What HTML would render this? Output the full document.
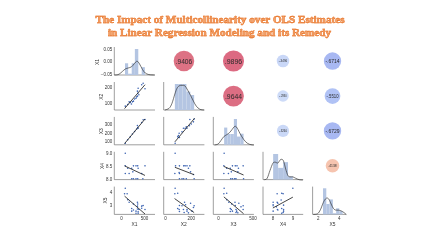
<!DOCTYPE html>
<html><head><meta charset="utf-8"><title>The Impact of Multicollinearity over OLS Estimates</title>
<style>
html,body{margin:0;padding:0;background:#fff;}
body{width:448px;height:252px;overflow:hidden;position:relative;font-family:"Liberation Sans",sans-serif;}
svg{position:absolute;left:0;top:0;}
svg text{font-family:"Liberation Sans",sans-serif;}
.title{font-family:"Liberation Serif",serif;font-weight:bold;font-size:11px;fill:#f2a06a;stroke:#e8792f;stroke-width:0.4;filter:drop-shadow(0.3px 0.3px 0.35px rgba(244,170,120,.9));}
</style></head>
<body>
<svg width="448" height="252" viewBox="0 0 448 252">
<rect width="448" height="252" fill="#fff"/>
<text class="title" x="220" y="23.0" text-anchor="middle" textLength="249" lengthAdjust="spacingAndGlyphs">The Impact of Multicollinearity over OLS Estimates</text>
<text class="title" x="219.5" y="36.3" text-anchor="middle" textLength="223" lengthAdjust="spacingAndGlyphs">in Linear Regression Modeling and its Remedy</text>
<path d="M114.3 47.0V75.0H155.0" fill="none" stroke="#6a6a6a" stroke-width="0.65"/>
<path d="M114.3 82.0V110.0H155.0" fill="none" stroke="#6a6a6a" stroke-width="0.65"/>
<path d="M163.7 82.0V110.0H204.4" fill="none" stroke="#6a6a6a" stroke-width="0.65"/>
<path d="M114.3 116.9V144.8H155.0" fill="none" stroke="#6a6a6a" stroke-width="0.65"/>
<path d="M163.7 116.9V144.8H204.4" fill="none" stroke="#6a6a6a" stroke-width="0.65"/>
<path d="M213.3 116.9V144.8H253.9" fill="none" stroke="#6a6a6a" stroke-width="0.65"/>
<path d="M114.3 151.8V179.6H155.0" fill="none" stroke="#6a6a6a" stroke-width="0.65"/>
<path d="M163.7 151.8V179.6H204.4" fill="none" stroke="#6a6a6a" stroke-width="0.65"/>
<path d="M213.3 151.8V179.6H253.9" fill="none" stroke="#6a6a6a" stroke-width="0.65"/>
<path d="M263.0 151.8V179.6H303.2" fill="none" stroke="#6a6a6a" stroke-width="0.65"/>
<path d="M114.3 186.6V214.4H155.0" fill="none" stroke="#6a6a6a" stroke-width="0.65"/>
<path d="M163.7 186.6V214.4H204.4" fill="none" stroke="#6a6a6a" stroke-width="0.65"/>
<path d="M213.3 186.6V214.4H253.9" fill="none" stroke="#6a6a6a" stroke-width="0.65"/>
<path d="M263.0 186.6V214.4H303.2" fill="none" stroke="#6a6a6a" stroke-width="0.65"/>
<path d="M312.6 186.6V214.4H346.5" fill="none" stroke="#6a6a6a" stroke-width="0.65"/>
<rect x="125.00" y="63.29" width="3.14" height="11.71" fill="#b4c5e2"/>
<rect x="128.14" y="73.71" width="3.57" height="1.29" fill="#b4c5e2"/>
<rect x="131.71" y="63.29" width="3.14" height="11.71" fill="#b4c5e2"/>
<rect x="134.86" y="49.00" width="3.43" height="26.00" fill="#b4c5e2"/>
<rect x="141.71" y="67.14" width="3.14" height="7.86" fill="#b4c5e2"/>
<path d="M114.29 75.00C114.69 74.98 115.90 75.00 116.71 74.86C117.52 74.71 118.19 74.71 119.14 74.14C120.10 73.57 121.40 72.29 122.43 71.43C123.45 70.57 124.33 69.57 125.29 69.00C126.24 68.43 127.12 68.36 128.14 68.00C129.17 67.64 130.40 67.57 131.43 66.86C132.45 66.14 133.36 64.67 134.29 63.71C135.21 62.76 136.12 61.10 137.00 61.14C137.88 61.19 138.67 62.62 139.57 64.00C140.48 65.38 141.48 67.93 142.43 69.43C143.38 70.93 144.21 72.14 145.29 73.00C146.36 73.86 147.31 74.24 148.86 74.57C150.40 74.90 153.62 74.93 154.57 75.00" fill="none" stroke="#2a2a2a" stroke-width="0.65"/>
<rect x="174.86" y="84.00" width="3.86" height="26.00" fill="#b4c5e2"/>
<rect x="178.71" y="84.00" width="3.86" height="26.00" fill="#b4c5e2"/>
<rect x="182.57" y="84.00" width="3.86" height="26.00" fill="#b4c5e2"/>
<rect x="186.43" y="91.57" width="3.86" height="18.43" fill="#b4c5e2"/>
<rect x="190.29" y="95.00" width="3.86" height="15.00" fill="#b4c5e2"/>
<path d="M164.86 110.00C165.57 109.71 167.95 109.40 169.14 108.29C170.33 107.17 171.05 105.67 172.00 103.29C172.95 100.90 174.02 96.50 174.86 94.00C175.69 91.50 176.29 89.64 177.00 88.29C177.71 86.93 178.31 86.36 179.14 85.86C179.98 85.36 181.05 85.29 182.00 85.29C182.95 85.29 184.02 85.24 184.86 85.86C185.69 86.48 186.05 87.40 187.00 89.00C187.95 90.60 189.50 93.40 190.57 95.43C191.64 97.45 192.48 99.36 193.43 101.14C194.38 102.93 195.21 104.79 196.29 106.14C197.36 107.50 198.55 108.64 199.86 109.29C201.17 109.93 203.43 109.88 204.14 110.00" fill="none" stroke="#2a2a2a" stroke-width="0.65"/>
<rect x="224.14" y="127.57" width="3.14" height="17.23" fill="#b4c5e2"/>
<rect x="227.29" y="134.00" width="3.29" height="10.80" fill="#b4c5e2"/>
<rect x="230.57" y="134.00" width="3.29" height="10.80" fill="#b4c5e2"/>
<rect x="233.86" y="119.00" width="3.14" height="25.80" fill="#b4c5e2"/>
<rect x="237.00" y="136.57" width="3.29" height="8.23" fill="#b4c5e2"/>
<rect x="240.29" y="133.71" width="3.29" height="11.09" fill="#b4c5e2"/>
<path d="M214.57 145.00C215.17 144.83 217.07 144.76 218.14 144.00C219.21 143.24 220.05 141.67 221.00 140.43C221.95 139.19 222.90 137.52 223.86 136.57C224.81 135.62 225.76 135.38 226.71 134.71C227.67 134.05 228.67 133.45 229.57 132.57C230.48 131.69 231.40 130.36 232.14 129.43C232.88 128.50 233.48 127.52 234.00 127.00C234.52 126.48 234.86 126.26 235.29 126.29C235.71 126.31 236.10 126.57 236.57 127.14C237.05 127.71 237.52 128.57 238.14 129.71C238.76 130.86 239.33 132.33 240.29 134.00C241.24 135.67 242.67 138.17 243.86 139.71C245.05 141.26 246.24 142.45 247.43 143.29C248.62 144.12 249.93 144.43 251.00 144.71C252.07 145.00 253.38 144.95 253.86 145.00" fill="none" stroke="#2a2a2a" stroke-width="0.65"/>
<rect x="273.14" y="154.00" width="5.00" height="25.60" fill="#b4c5e2"/>
<rect x="278.14" y="167.86" width="5.00" height="11.74" fill="#b4c5e2"/>
<rect x="283.14" y="162.14" width="4.86" height="17.46" fill="#b4c5e2"/>
<rect x="288.00" y="176.43" width="4.86" height="3.17" fill="#b4c5e2"/>
<path d="M264.29 179.71C264.76 179.48 266.19 179.83 267.14 178.29C268.10 176.74 269.05 172.93 270.00 170.43C270.95 167.93 272.02 164.67 272.86 163.29C273.69 161.90 274.17 162.19 275.00 162.14C275.83 162.10 277.02 163.33 277.86 163.00C278.69 162.67 279.36 160.76 280.00 160.14C280.64 159.52 281.12 159.12 281.71 159.29C282.31 159.45 282.90 159.52 283.57 161.14C284.24 162.76 285.00 166.62 285.71 169.00C286.43 171.38 287.14 174.12 287.86 175.43C288.57 176.74 289.17 176.62 290.00 176.86C290.83 177.10 291.90 176.62 292.86 176.86C293.81 177.10 294.64 177.81 295.71 178.29C296.79 178.76 298.10 179.43 299.29 179.71C300.48 180.00 302.26 179.95 302.86 180.00" fill="none" stroke="#2a2a2a" stroke-width="0.65"/>
<rect x="323.00" y="188.29" width="3.29" height="26.11" fill="#b4c5e2"/>
<rect x="326.29" y="204.00" width="3.29" height="10.40" fill="#b4c5e2"/>
<rect x="329.57" y="199.43" width="3.29" height="14.97" fill="#b4c5e2"/>
<rect x="332.86" y="213.29" width="3.29" height="1.11" fill="#b4c5e2"/>
<rect x="336.14" y="208.29" width="3.14" height="6.11" fill="#b4c5e2"/>
<rect x="339.29" y="211.14" width="3.29" height="3.26" fill="#b4c5e2"/>
<path d="M313.29 214.43C314.00 214.31 316.38 214.50 317.57 213.71C318.76 212.93 319.48 211.57 320.43 209.71C321.38 207.86 322.45 204.36 323.29 202.57C324.12 200.79 324.79 199.76 325.43 199.00C326.07 198.24 326.55 197.93 327.14 198.00C327.74 198.07 328.33 198.43 329.00 199.43C329.67 200.43 330.43 202.52 331.14 204.00C331.86 205.48 332.57 207.29 333.29 208.29C334.00 209.29 334.60 209.69 335.43 210.00C336.26 210.31 337.33 210.00 338.29 210.14C339.24 210.29 340.19 210.45 341.14 210.86C342.10 211.26 343.17 211.98 344.00 212.57C344.83 213.17 345.79 214.12 346.14 214.43" fill="none" stroke="#2a2a2a" stroke-width="0.65"/>
<path d="M125.29 106.14h0M127.71 104.43h0M129.14 101.86h0M131.43 104.00h0M132.43 101.86h0M133.43 101.14h0M136.00 98.29h0M137.43 96.14h0M137.86 93.29h0M137.43 91.14h0M138.14 88.29h0M141.71 84.71h0M143.14 83.29h0M145.00 88.71h0M138.86 94.71h0M136.71 96.86h0M134.57 99.00h0M130.29 102.57h0" stroke="#3f66b3" stroke-width="1.6" stroke-linecap="round" fill="none"/>
<path d="M124.57 108.57L145.00 84.71" stroke="#222" stroke-width="0.85" fill="none"/>
<path d="M125.29 143.29h0M127.71 139.71h0M130.29 136.86h0M132.43 134.00h0M134.57 131.43h0M136.71 129.00h0M137.71 127.57h0M137.43 125.43h0M138.14 128.29h0M141.71 122.57h0M143.14 119.71h0M145.00 119.43h0" stroke="#3f66b3" stroke-width="1.6" stroke-linecap="round" fill="none"/>
<path d="M124.57 143.57L145.00 119.00" stroke="#222" stroke-width="0.85" fill="none"/>
<path d="M125.29 153.29h0M125.29 165.86h0M127.71 168.29h0M131.71 168.29h0M133.43 165.86h0M136.00 165.86h0M137.71 165.86h0M138.14 168.29h0M145.00 165.86h0M125.29 173.57h0M129.14 173.57h0M132.86 171.86h0M141.71 173.57h0M131.71 178.71h0M133.43 178.71h0M136.00 178.71h0M137.71 178.71h0M142.86 178.71h0" stroke="#3f66b3" stroke-width="1.6" stroke-linecap="round" fill="none"/>
<path d="M124.57 165.86L145.00 175.43" stroke="#222" stroke-width="0.85" fill="none"/>
<path d="M125.29 188.29h0M124.57 193.71h0M127.14 193.71h0M127.71 199.71h0M129.14 202.29h0M133.43 204.00h0M137.43 202.29h0M137.71 204.00h0M137.43 206.14h0M141.71 206.14h0M143.14 205.43h0M131.71 208.57h0M133.43 210.00h0M137.43 209.00h0M138.86 209.43h0M141.71 208.29h0M145.00 209.43h0M131.71 211.14h0M136.00 211.14h0M138.14 211.86h0M136.00 213.29h0M138.14 213.29h0" stroke="#3f66b3" stroke-width="1.6" stroke-linecap="round" fill="none"/>
<path d="M124.57 196.14L145.00 214.00" stroke="#222" stroke-width="0.85" fill="none"/>
<path d="M175.14 143.29h0M177.71 136.86h0M179.14 133.29h0M178.43 135.43h0M182.00 131.86h0M183.43 128.29h0M185.14 128.29h0M187.00 128.29h0M186.29 126.86h0M189.43 125.71h0M191.29 124.00h0M193.43 121.86h0M189.86 119.43h0M194.14 119.00h0M179.43 137.57h0" stroke="#3f66b3" stroke-width="1.6" stroke-linecap="round" fill="none"/>
<path d="M174.86 141.86L194.57 118.29" stroke="#222" stroke-width="0.85" fill="none"/>
<path d="M175.14 153.29h0M175.57 165.86h0M179.43 165.86h0M183.71 165.86h0M185.14 165.86h0M187.00 165.86h0M189.86 165.86h0M188.43 168.29h0M174.86 173.57h0M179.14 172.57h0M179.43 173.57h0M190.57 171.86h0M193.43 174.43h0M179.43 178.71h0M182.00 178.71h0M183.71 178.71h0M186.29 178.71h0M194.14 178.71h0" stroke="#3f66b3" stroke-width="1.6" stroke-linecap="round" fill="none"/>
<path d="M174.86 167.29L194.14 174.71" stroke="#222" stroke-width="0.85" fill="none"/>
<path d="M175.14 188.29h0M174.86 193.71h0M177.71 193.29h0M184.57 202.29h0M190.57 203.29h0M185.57 204.71h0M182.00 205.71h0M179.43 205.43h0M194.14 205.71h0M193.43 207.57h0M177.71 208.57h0M179.14 209.43h0M183.43 209.43h0M187.00 209.43h0M179.43 211.43h0M187.00 211.14h0M192.00 211.14h0M184.14 212.57h0M188.43 212.86h0" stroke="#3f66b3" stroke-width="1.6" stroke-linecap="round" fill="none"/>
<path d="M174.57 198.57L194.14 212.57" stroke="#222" stroke-width="0.85" fill="none"/>
<path d="M224.14 153.29h0M223.86 165.86h0M232.43 165.86h0M235.29 165.86h0M237.00 165.86h0M243.14 165.86h0M226.71 168.29h0M230.29 168.29h0M238.43 168.29h0M223.86 173.57h0M228.43 173.57h0M231.29 171.86h0M237.86 171.86h0M230.71 178.71h0M232.43 178.71h0M234.57 178.71h0M236.00 178.71h0M243.57 178.71h0" stroke="#3f66b3" stroke-width="1.6" stroke-linecap="round" fill="none"/>
<path d="M223.86 166.43L243.57 175.00" stroke="#222" stroke-width="0.85" fill="none"/>
<path d="M224.14 188.29h0M223.86 193.71h0M226.71 193.29h0M226.71 199.71h0M228.86 202.29h0M235.00 202.29h0M238.86 203.29h0M231.71 204.00h0M235.29 205.43h0M243.14 205.71h0M241.00 206.86h0M230.29 208.57h0M231.29 209.43h0M236.00 209.43h0M243.14 209.43h0M230.29 211.43h0M232.43 211.14h0M236.71 211.14h0M236.00 212.57h0M237.86 212.86h0" stroke="#3f66b3" stroke-width="1.6" stroke-linecap="round" fill="none"/>
<path d="M223.86 196.86L243.57 213.71" stroke="#222" stroke-width="0.85" fill="none"/>
<path d="M292.86 188.29h0M277.14 193.71h0M281.71 193.29h0M283.14 193.71h0M281.14 200.00h0M273.14 202.29h0M277.14 202.29h0M277.86 203.29h0M273.14 204.71h0M273.14 205.71h0M283.57 205.14h0M276.43 206.86h0M277.43 209.43h0M277.86 210.00h0M281.71 208.57h0M283.57 209.43h0M273.14 211.14h0M283.57 211.14h0M283.14 212.57h0M281.71 213.29h0" stroke="#3f66b3" stroke-width="1.6" stroke-linecap="round" fill="none"/>
<path d="M272.86 208.00L292.86 197.14" stroke="#222" stroke-width="0.85" fill="none"/>
<circle cx="183.95" cy="61.05" r="10.29" fill="#dd7284"/>
<text x="183.95" y="63.66" font-size="7.36" text-anchor="middle" fill="#2a2a2a" textLength="16.67" lengthAdjust="spacingAndGlyphs">.9406</text>
<circle cx="233.50" cy="61.05" r="10.55" fill="#dc6a82"/>
<text x="233.50" y="63.78" font-size="7.7" text-anchor="middle" fill="#2a2a2a" textLength="17.43" lengthAdjust="spacingAndGlyphs">.9896</text>
<circle cx="233.50" cy="96.05" r="10.41" fill="#dc6e83"/>
<text x="233.50" y="98.72" font-size="7.53" text-anchor="middle" fill="#2a2a2a" textLength="17.04" lengthAdjust="spacingAndGlyphs">.9644</text>
<circle cx="283.00" cy="61.05" r="6.27" fill="#c9d7f7"/>
<text x="283.00" y="62.21" font-size="3.28" text-anchor="middle" fill="#2a2a2a" textLength="8.41" lengthAdjust="spacingAndGlyphs">-.3496</text>
<circle cx="283.00" cy="96.05" r="5.74" fill="#cddbf8"/>
<text x="283.00" y="97.08" font-size="2.89" text-anchor="middle" fill="#2a2a2a" textLength="7.41" lengthAdjust="spacingAndGlyphs">-.2930</text>
<circle cx="283.00" cy="130.90" r="6.06" fill="#cad8f7"/>
<text x="283.00" y="132.01" font-size="3.12" text-anchor="middle" fill="#2a2a2a" textLength="7.99" lengthAdjust="spacingAndGlyphs">-.3260</text>
<circle cx="332.50" cy="61.05" r="8.69" fill="#a8b8f2"/>
<text x="332.50" y="63.00" font-size="5.5" text-anchor="middle" fill="#2a2a2a" textLength="14.12" lengthAdjust="spacingAndGlyphs">-.6714</text>
<circle cx="332.50" cy="96.05" r="7.87" fill="#b0c2f5"/>
<text x="332.50" y="97.71" font-size="4.67" text-anchor="middle" fill="#2a2a2a" textLength="11.98" lengthAdjust="spacingAndGlyphs">-.5510</text>
<circle cx="332.50" cy="130.90" r="8.70" fill="#a8b8f2"/>
<text x="332.50" y="132.86" font-size="5.51" text-anchor="middle" fill="#2a2a2a" textLength="14.14" lengthAdjust="spacingAndGlyphs">-.6729</text>
<circle cx="332.50" cy="165.75" r="6.82" fill="#f6c4af"/>
<text x="332.50" y="167.07" font-size="3.72" text-anchor="middle" fill="#2a2a2a" textLength="8.43" lengthAdjust="spacingAndGlyphs">.4138</text>
<text x="112.20" y="50.62" font-size="4.5" text-anchor="end" fill="#333">0.05</text>
<text x="112.20" y="62.82" font-size="4.5" text-anchor="end" fill="#333">0.00</text>
<text x="112.20" y="76.02" font-size="4.5" text-anchor="end" fill="#333">−0.05</text>
<text x="112.20" y="88.72" font-size="4.5" text-anchor="end" fill="#333">200</text>
<text x="112.20" y="104.62" font-size="4.5" text-anchor="end" fill="#333">100</text>
<text x="112.20" y="126.32" font-size="4.5" text-anchor="end" fill="#333">300</text>
<text x="112.20" y="134.62" font-size="4.5" text-anchor="end" fill="#333">200</text>
<text x="112.20" y="143.02" font-size="4.5" text-anchor="end" fill="#333">100</text>
<text x="112.20" y="154.92" font-size="4.5" text-anchor="end" fill="#333">9.0</text>
<text x="112.20" y="168.02" font-size="4.5" text-anchor="end" fill="#333">8.5</text>
<text x="112.20" y="180.62" font-size="4.5" text-anchor="end" fill="#333">8.0</text>
<text x="112.20" y="193.92" font-size="4.5" text-anchor="end" fill="#333">4</text>
<text x="112.20" y="207.32" font-size="4.5" text-anchor="end" fill="#333">3</text>
<text x="121.40" y="220.22" font-size="4.5" text-anchor="middle" fill="#333">0</text>
<text x="144.60" y="220.22" font-size="4.5" text-anchor="middle" fill="#333">500</text>
<text x="165.60" y="220.22" font-size="4.5" text-anchor="middle" fill="#333">0</text>
<text x="191.30" y="220.22" font-size="4.5" text-anchor="middle" fill="#333">200</text>
<text x="218.40" y="220.22" font-size="4.5" text-anchor="middle" fill="#333">0</text>
<text x="253.10" y="220.22" font-size="4.5" text-anchor="middle" fill="#333">500</text>
<text x="272.90" y="220.22" font-size="4.5" text-anchor="middle" fill="#333">8</text>
<text x="292.90" y="220.22" font-size="4.5" text-anchor="middle" fill="#333">9</text>
<text x="318.30" y="220.22" font-size="4.5" text-anchor="middle" fill="#333">2</text>
<text x="339.30" y="220.22" font-size="4.5" text-anchor="middle" fill="#333">4</text>
<text x="134.50" y="226.16" font-size="4.9" text-anchor="middle" fill="#333">X1</text>
<text x="183.80" y="226.16" font-size="4.9" text-anchor="middle" fill="#333">X2</text>
<text x="233.60" y="226.16" font-size="4.9" text-anchor="middle" fill="#333">X3</text>
<text x="283.00" y="226.16" font-size="4.9" text-anchor="middle" fill="#333">X4</text>
<text x="332.50" y="226.16" font-size="4.9" text-anchor="middle" fill="#333">X5</text>
<text x="98.66" y="62.00" font-size="4.9" text-anchor="middle" fill="#333" transform="rotate(-90 98.66 62.00)">X1</text>
<text x="103.16" y="96.80" font-size="4.9" text-anchor="middle" fill="#333" transform="rotate(-90 103.16 96.80)">X2</text>
<text x="103.16" y="131.20" font-size="4.9" text-anchor="middle" fill="#333" transform="rotate(-90 103.16 131.20)">X3</text>
<text x="103.66" y="165.90" font-size="4.9" text-anchor="middle" fill="#333" transform="rotate(-90 103.66 165.90)">X4</text>
<text x="106.96" y="200.60" font-size="4.9" text-anchor="middle" fill="#333" transform="rotate(-90 106.96 200.60)">X5</text>
</svg>
</body></html>
